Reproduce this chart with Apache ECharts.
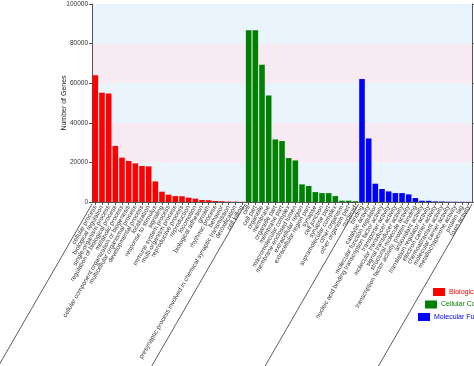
<!DOCTYPE html>
<html>
<head>
<meta charset="utf-8">
<script src="https://cdn.jsdelivr.net/npm/echarts@6/dist/echarts.min.js"></script>
<style>html,body{margin:0;padding:0;background:#fff}#c{width:474px;height:366px}</style>
</head>
<body>
<div id="c"></div>
<script>
const bpNames = ["cellular process","biological regulation","single-organism process","regulation of biological process","metabolic process","cellular component organization or biogenesis","multicellular organismal process","developmental process","localization","response to stimulus","signaling","immune system process","multi-organism process","reproductive process","reproduction","locomotion","biological adhesion","growth","rhythmic process","behavior","presynaptic process involved in chemical synaptic transmission","detoxification","cell killing"];
const bpValues = [64000,55200,54800,28300,22400,20700,19500,18200,18000,10400,5200,3700,3000,2900,2200,1700,1000,900,500,400,200,150,100];
const ccNames = ["cell","cell part","organelle","membrane","organelle part","membrane part","macromolecular complex","membrane-enclosed lumen","extracellular region","extracellular region part","synapse","cell junction","synapse part","supramolecular complex","other organism","other organism part","nucleoid"];
const ccValues = [86700,86700,69300,53800,31600,30800,22200,21000,8900,8100,5000,4500,4500,3000,650,650,400];
const mfNames = ["binding","catalytic activity","molecular function regulator","nucleic acid binding transcription factor activity","transporter activity","molecular transducer activity","signal transducer activity","structural molecule activity","transcription factor activity, protein binding","antioxidant activity","translation regulator activity","electron carrier activity","chemoattractant activity","molecular carrier activity","metallochaperone activity","protein tag","toxin activity"];
const mfValues = [62100,32100,9250,6550,5350,4500,4500,3850,2000,650,600,300,250,150,120,100,80];
const yTicks = [0,20000,40000,60000,80000,100000];
const groupNames = ["Biological Process","Cellular Component","Molecular Function"];
const groupColors = ["#ff0000","#008000","#0000ff"];

const categories = bpNames.concat(ccNames, mfNames);
const groups = [bpValues, ccValues, mfValues];
let offset = 0;
const seriesData = groups.map(vals => {
  const d = categories.map(() => '-');
  vals.forEach((v, i) => { d[offset + i] = v; });
  offset += vals.length;
  return d;
});

const font = 'Liberation Sans, Arial, sans-serif';
const chart = echarts.init(document.getElementById('c'), null, {renderer: 'canvas'});
const yCommon = {
  type: 'value', min: yTicks[0], max: yTicks[yTicks.length - 1], interval: yTicks[1] - yTicks[0],
  axisLine: {show: true, lineStyle: {color: '#555', width: 1}},
  axisTick: {show: true, length: 3, lineStyle: {color: '#555'}},
  splitLine: {show: false}
};
chart.setOption({
  animation: false,
  textStyle: {fontFamily: font},
  grid: {left: 92, right: 2, top: 4, bottom: 164, containLabel: false},
  legend: groupNames.map((n, i) => ({
    data: [n], left: [433, 425, 418][i], top: [288, 300.5, 313][i],
    itemWidth: 12, itemHeight: 8, itemGap: 3, padding: 0,
    icon: 'rect', selectedMode: false,
    textStyle: {color: groupColors[i], fontSize: 7, fontFamily: font, padding: [0, 0, 0, -1]}
  })),
  xAxis: {
    type: 'category', data: categories,
    axisLine: {show: true, lineStyle: {color: '#555', width: 1}},
    axisTick: {show: true, alignWithLabel: true, length: 3, lineStyle: {color: '#555'}},
    axisLabel: {interval: 0, rotate: 60, fontSize: 6.3, color: '#333', margin: 4, fontFamily: font}
  },
  yAxis: [
    Object.assign({}, yCommon, {
      position: 'left',
      name: 'Number of Genes', nameLocation: 'middle', nameGap: 24, nameMoveOverlap: false,
      nameTextStyle: {fontSize: 7, color: '#222', fontFamily: font},
      axisLabel: {fontSize: 6.5, color: '#333', margin: 4, fontFamily: font, formatter: v => String(v)},
      splitArea: {show: true, areaStyle: {color: ['#e9f4fd', '#f7eaf3']}}
    }),
    Object.assign({}, yCommon, {position: 'right', axisLabel: {show: false}, splitArea: {show: false}})
  ],
  series: seriesData.map((d, i) => ({
    type: 'bar', name: groupNames[i], data: d, stack: 'go',
    barCategoryGap: '16%', itemStyle: {color: groupColors[i]}
  }))
});

// group separator lines, positioned from the axis scale
const p0 = chart.convertToPixel({xAxisIndex: 0}, 0);
const p1 = chart.convertToPixel({xAxisIndex: 0}, 1);
const band = p1 - p0;
const yBase = chart.convertToPixel({yAxisIndex: 0}, 0);
const bounds = [0, bpNames.length, bpNames.length + ccNames.length, categories.length];
const H = 366;
const k = Math.tan(60 * Math.PI / 180);
const lines = bounds.map(b => {
  const x0 = p0 + (b - 0.5) * band;
  const y0 = yBase + 2;
  return {
    type: 'line', silent: true,
    shape: {x1: x0, y1: y0, x2: x0 - (H - y0) / k, y2: H},
    style: {stroke: '#333', lineWidth: 0.8}
  };
});
chart.setOption({graphic: lines});
</script>
</body>
</html>
